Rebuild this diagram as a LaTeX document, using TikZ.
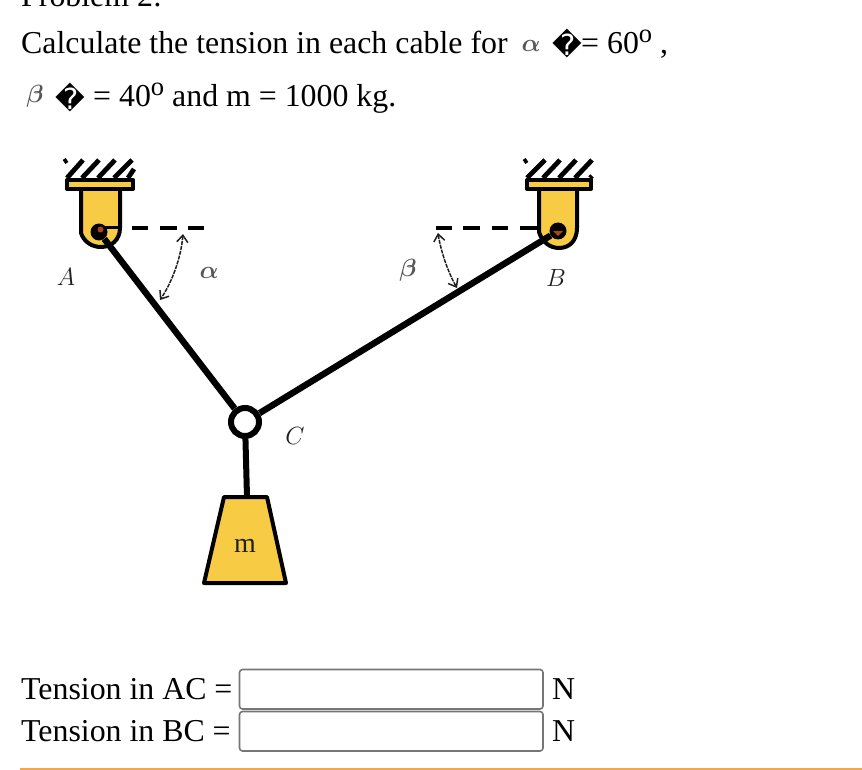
\documentclass[tikz,border=0pt]{standalone}
\usepackage{fontspec}
\setmainfont{Liberation Serif}
\newfontfamily\dejafont{DejaVu Sans}
\usetikzlibrary{arrows.meta}
\definecolor{brass}{HTML}{F8CB45}
\definecolor{pinred}{HTML}{A8481A}
\definecolor{boxgray}{HTML}{767676}
\definecolor{rulecol}{HTML}{F0A949}
\definecolor{lab}{HTML}{202020}
\newcommand{\supo}{\raisebox{11.5pt}{\fontsize{26.5}{26.5}\selectfont o}}
\tikzset{
  x=1pt,y=-1pt,
  body/.style={font=\fontsize{31.85}{32}\selectfont,inner sep=0pt,anchor=base west},
  figlabel/.style={font=\fontsize{29}{29}\selectfont,inner sep=0pt,text=lab},
  greek/.style={font=\fontsize{30}{30}\selectfont\boldmath,inner sep=0pt,text=lab!75},
  part/.style={draw=black,line width=4pt,fill=brass,line join=round},
  cable/.style={draw=black,line width=6.4pt},
  hatch/.style={draw=black,line width=4.8pt},
  dashline/.style={draw=black,line width=4pt},
  anglearrow/.style={draw=lab,line width=1.5pt,dash pattern=on 4pt off 1pt,{Straight Barb[length=7pt,width=11pt,line width=1.5pt]}-{Straight Barb[length=7pt,width=11pt,line width=1.5pt]}},
  pin/.style={circle,fill=black,minimum size=17pt,inner sep=0pt},
  ansbox/.style={draw=boxgray,line width=1.6pt,rounded corners=3pt,fill=white},
}
\begin{document}
\begin{tikzpicture}
\useasboundingbox (0,0) rectangle (862,770);
\clip (0,0) rectangle (862,770);
% text
\node[body] (t0) at (21,7) {Problem 2:};
\node[body] (t1) at (21,54) {Calculate the tension in each cable for};
\node[greek] (ta) at (531,46) {$\alpha$};
\node[inner sep=0pt,font=\dejafont\fontsize{29}{29}\selectfont] (q1) at (567,43) {\symbol{"FFFD}};
\node[body] (t2) at (581,54) {= 60\supo{} ,};
\node[greek] (tb) at (35,96) {$\beta$};
\node[inner sep=0pt,font=\dejafont\fontsize{29}{29}\selectfont] (q2) at (70,97) {\symbol{"FFFD}};
\node[body] (t3) at (93,107) {= 40\supo{} and m = 1000 kg.};
% left support
\foreach \a/\b/\c/\d in {64/162/67/160,67/178/83/160,82/178/99/160,98/178/115/160,114/178/132/160,128/178/134/169}
  \draw[hatch] (\a,\b) -- (\c,\d);
\draw[part] (81,185) -- (81,233) .. controls (84,242) and (92,247) .. (101,247) .. controls (111,247) and (120,240) .. (120,228) -- (120,185) -- cycle;
\draw[part] (67,180) rectangle (133,189);
\draw[draw=black,line width=3pt] (99,228) -- (120,228);
% right support
\foreach \a/\b/\c/\d in {524/162/527/160,527/178/545/160,543/178/560/160,559/178/576/160,575/178/592/160,590/178/592/176}
  \draw[hatch] (\a,\b) -- (\c,\d);
\draw[part] (539,185) -- (539,232) .. controls (542,242) and (550,248) .. (559,248) .. controls (570,248) and (577,240) .. (577,228) -- (577,185) -- cycle;
\draw[part] (527,180) rectangle (591,189);
% dashes
\foreach \a/\b in {132/148,160/177,188/204,436/452,463/480,492/508,520/537}
  \draw[dashline] (\a,228) -- (\b,228);
% joints and cables
\node[circle,draw=black,line width=6pt,fill=white,minimum size=28pt,inner sep=0pt] (C) at (245,422) {};
\node[pin] (A) at (99,232) {};
\node[pin] (B) at (558,231) {};
\draw[cable] (A) -- (C);
\draw[cable] (B) -- (C);
\fill[pinred] (100.5,229.5) circle[radius=3pt];
\fill[pinred] (B.center) +(-5,0) -- +(5,0) -- +(0,5) -- cycle;
\draw[part] (224,497) -- (267,497) -- (286,583) -- (204,583) -- cycle;
\coordinate (W) at (247,497);
\draw[cable,line width=6pt] (C) -- (W);
\node[inner sep=0pt,font=\fontsize{28}{28}\selectfont,text=lab] (m) at (245,546) {$\mathrm{m}$};
% angle arrows
\coordinate (a1) at (183,234);
\coordinate (a2) at (160,300);
\coordinate (b1) at (438,233);
\coordinate (b2) at (457,288);
\draw[anglearrow] (a1) .. controls (181,258) and (172,282) .. (a2);
\draw[anglearrow] (b1) .. controls (441,252) and (448,272) .. (b2);
% figure labels
\node[figlabel] (lA) at (66,277) {$A$};
\node[greek] (la) at (209,273) {$\alpha$};
\node[greek] (lb) at (408,270) {$\beta$};
\node[figlabel] (lB) at (556,278) {$B$};
\node[figlabel] (lC) at (295,436) {$C$};
% answers
\node[body] (q3) at (21,699) {Tension in AC =};
\node[body] (q4) at (21,741) {Tension in BC =};
\draw[ansbox] (239.5,669.5) rectangle (543,709);
\draw[ansbox] (239.5,711.5) rectangle (543,751);
\node[body] (n1) at (552,699) {N};
\node[body] (n2) at (552,741) {N};
\draw[draw=rulecol,line width=2pt] (20,769) -- (862,769);
\end{tikzpicture}
\end{document}
